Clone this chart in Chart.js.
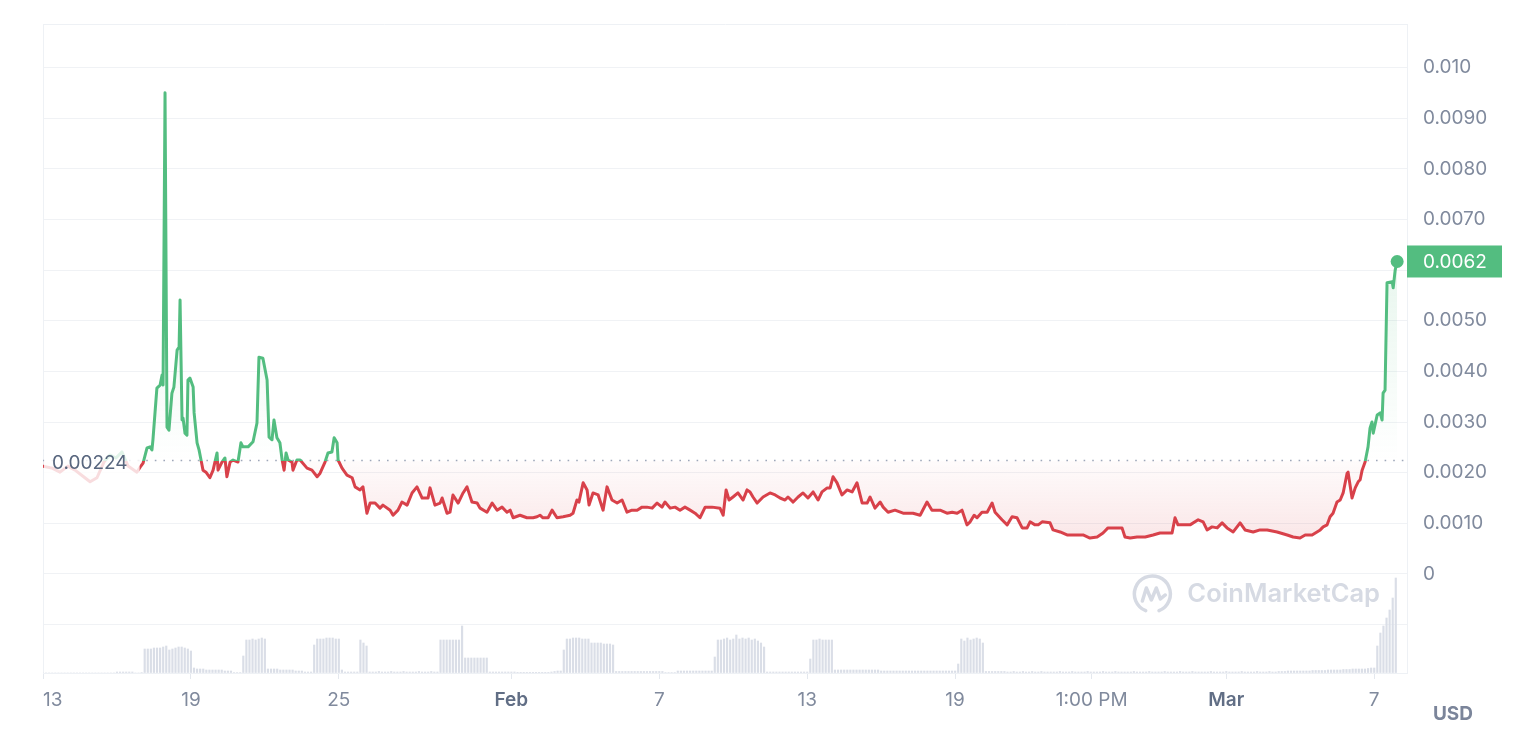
<!DOCTYPE html>
<html><head><meta charset="utf-8">
<script src="https://cdn.jsdelivr.net/npm/chart.js@4.4.1/dist/chart.umd.min.js"></script>
<style>html,body{margin:0;padding:0;background:#fff;}#wrap{width:1536px;height:744px;}</style>
</head><body><div id="wrap"><canvas id="c" width="1536" height="744"></canvas></div>
<script>
// ---- time axis: days since Jan 13 ----
const priceDays = [
0.00,0.37,0.69,1.01,1.30,1.62,1.91,2.19,2.47,2.72,
2.96,3.20,3.45,3.81,3.94,4.06,4.22,4.34,4.42,4.46,
4.62,4.75,4.83,4.87,4.95,5.03,5.11,5.23,5.31,5.44,
5.52,5.56,5.64,5.68,5.76,5.84,5.88,5.96,6.09,6.13,
6.25,6.33,6.41,6.49,6.61,6.77,6.90,7.06,7.10,7.26,
7.38,7.46,7.59,7.71,7.91,8.03,8.11,8.32,8.52,8.68,
8.76,8.92,9.09,9.17,9.29,9.37,9.49,9.61,9.70,9.78,
9.86,9.94,10.10,10.14,10.30,10.43,10.71,10.91,11.12,11.24,
11.44,11.56,11.72,11.81,11.93,11.97,12.13,12.33,12.54,12.66,
12.86,12.98,13.14,13.27,13.47,13.67,13.79,14.08,14.20,14.40,
14.56,14.77,14.97,15.17,15.38,15.62,15.70,15.90,16.11,16.19,
16.39,16.51,16.63,16.84,17.04,17.20,17.40,17.61,17.73,18.01,
18.22,18.42,18.62,18.82,18.95,19.07,19.35,19.63,19.88,20.04,
20.16,20.28,20.49,20.65,20.85,21.10,21.38,21.50,21.66,21.74,
21.91,22.07,22.15,22.31,22.52,22.72,22.88,23.08,23.29,23.49,
23.69,23.89,24.10,24.30,24.50,24.71,24.91,25.11,25.23,25.44,
25.64,25.84,26.04,26.25,26.45,26.65,26.86,27.14,27.46,27.59,
27.71,27.83,27.99,28.19,28.40,28.56,28.68,28.80,28.97,29.21,
29.49,29.70,29.90,30.10,30.22,30.43,30.63,30.83,31.03,31.24,
31.44,31.60,31.81,31.93,32.05,32.21,32.41,32.62,32.82,33.02,
33.23,33.43,33.55,33.75,33.96,34.08,34.28,34.56,34.89,35.29,
35.58,35.86,36.06,36.39,36.67,36.88,37.08,37.28,37.48,37.61,
37.77,37.89,38.09,38.30,38.50,38.62,38.90,39.11,39.31,39.51,
39.72,39.92,40.04,40.24,40.37,40.53,40.85,40.97,41.26,41.54,
41.78,42.19,42.47,42.76,43.00,43.20,43.41,43.77,43.89,44.10,
44.38,44.71,45.03,45.31,45.60,45.80,45.92,46.04,46.25,46.53,
46.86,47.06,47.22,47.42,47.63,47.83,48.03,48.28,48.56,48.76,
49.09,49.37,49.66,50.06,50.47,50.71,50.99,51.20,51.48,51.81,
51.93,52.09,52.21,52.33,52.49,52.62,52.74,52.90,52.94,53.10,
53.23,53.35,53.43,53.51,53.63,53.75,53.83,53.91,53.96,54.12,
54.24,54.32,54.36,54.44,54.52,54.73,54.77,54.85,54.93
];
const priceUsd = [
0.00213,0.00209,0.00201,0.00213,0.00205,0.00193,0.00182,0.00190,0.00221,0.00235,
0.00229,0.00241,0.00213,0.00201,0.00211,0.00219,0.00249,0.00251,0.00245,0.00265,
0.00367,0.00373,0.00393,0.00373,0.00950,0.00290,0.00284,0.00357,0.00369,0.00442,
0.00448,0.00541,0.00304,0.00308,0.00278,0.00274,0.00383,0.00387,0.00369,0.00318,
0.00259,0.00245,0.00225,0.00205,0.00201,0.00190,0.00205,0.00239,0.00205,0.00221,
0.00229,0.00192,0.00221,0.00225,0.00221,0.00259,0.00251,0.00251,0.00261,0.00298,
0.00428,0.00426,0.00383,0.00270,0.00265,0.00304,0.00269,0.00259,0.00225,0.00205,
0.00239,0.00225,0.00221,0.00205,0.00225,0.00225,0.00209,0.00205,0.00192,0.00199,
0.00221,0.00239,0.00241,0.00269,0.00259,0.00225,0.00209,0.00195,0.00190,0.00172,
0.00166,0.00172,0.00120,0.00140,0.00140,0.00130,0.00136,0.00126,0.00116,0.00126,
0.00142,0.00136,0.00160,0.00172,0.00150,0.00150,0.00170,0.00136,0.00140,0.00150,
0.00120,0.00122,0.00156,0.00140,0.00160,0.00172,0.00142,0.00140,0.00130,0.00122,
0.00140,0.00126,0.00132,0.00122,0.00126,0.00111,0.00116,0.00111,0.00111,0.00113,
0.00116,0.00111,0.00111,0.00126,0.00111,0.00113,0.00116,0.00120,0.00146,0.00142,
0.00180,0.00166,0.00136,0.00160,0.00156,0.00126,0.00172,0.00146,0.00140,0.00146,
0.00122,0.00126,0.00126,0.00132,0.00132,0.00130,0.00140,0.00132,0.00142,0.00130,
0.00132,0.00126,0.00132,0.00126,0.00120,0.00111,0.00132,0.00132,0.00130,0.00116,
0.00166,0.00146,0.00152,0.00160,0.00146,0.00166,0.00162,0.00152,0.00140,0.00152,
0.00160,0.00156,0.00150,0.00146,0.00152,0.00142,0.00152,0.00160,0.00150,0.00162,
0.00146,0.00162,0.00170,0.00170,0.00192,0.00180,0.00156,0.00166,0.00162,0.00180,
0.00140,0.00140,0.00152,0.00130,0.00142,0.00132,0.00122,0.00126,0.00120,0.00120,
0.00116,0.00142,0.00126,0.00126,0.00120,0.00122,0.00120,0.00126,0.00097,0.00103,
0.00116,0.00111,0.00122,0.00122,0.00140,0.00122,0.00107,0.00097,0.00113,0.00111,
0.00091,0.00091,0.00103,0.00097,0.00097,0.00103,0.00101,0.00087,0.00083,0.00077,
0.00077,0.00077,0.00071,0.00073,0.00081,0.00091,0.00091,0.00091,0.00073,0.00071,
0.00073,0.00073,0.00077,0.00081,0.00081,0.00081,0.00111,0.00097,0.00097,0.00097,
0.00107,0.00103,0.00087,0.00093,0.00091,0.00101,0.00091,0.00083,0.00101,0.00087,
0.00083,0.00087,0.00087,0.00083,0.00077,0.00073,0.00071,0.00077,0.00077,0.00087,
0.00093,0.00097,0.00113,0.00120,0.00142,0.00146,0.00160,0.00199,0.00201,0.00150,
0.00170,0.00182,0.00186,0.00205,0.00221,0.00251,0.00288,0.00300,0.00278,0.00314,
0.00318,0.00304,0.00357,0.00363,0.00575,0.00577,0.00565,0.00600,0.00617
];
// volume, one value per 3-hour slot starting Jan 13 00:00 (relative units)
const volStartDay = 0;
const volStepDays = 0.125;
const volume = [
0,0,0,0,0,0,0,0,
0,0,0,0,0,0,0,0,
0,0,0,0,0,0,0,0,
1,1,1,1,1,1,0,0,
0.5,24,24,24,25,25,25,26,
27,23,24,25,26,26,25,24,
22,5,4,4,4,3,3,3,
3,3,3,2,2,2,0.5,0.5,
0.5,17,33,33,34,33,34,35,
34,4,4,4,4,3,3,3,
3,3,2,2,2,1,1,1,
28,34,34,34,35,35,35,34,
34,3,1,1,1,1,1,33,
30,27,1,1,1,1.5,1,1,
1,1.5,1,1,1,1.5,1,1,
1,1,1.5,1,1,1,1.5,1,
1,33,33,33,33,33,33,33,
47,15,15,15,15,15,15,15,
15,1,1,1,1,1,1,1,
1,1,0.3,0.3,0.3,0.3,0.3,0.3,
0.3,0.3,0.3,0.3,0.3,1,1.5,2,
2,23,34,34,35,35,35,34,
34,34,30,30,30,30,29,29,
29,28,1.5,1.5,1.5,1.5,1.5,1.5,
1.5,1.5,1.5,1.5,1.5,1.5,1.5,1.5,
1.5,1.5,0.5,0.5,0.5,0.5,2,2,
2,2,2,2,2,2,2,2,
2,2,16,33,33,34,35,33,
34,38,34,35,34,35,33,34,
32,30,26,1,1,1,1,1,
1,1,1,1,1,1,1,1,
1,14,33,33,34,33,33,33,
33,3,3,3,3,3,3,3,
3,3,3,3,3,3,3,3,
2,2,2,2,2,2,2,2,
2,2,2,2,2,2,2,2,
2,2,2,2,2,2,2,2,
2,9,34,32,35,33,34,35,
34,30,1.5,1.5,1.5,1.5,1.5,1.5,
1.5,1,1,1.5,1,1,1.5,1,
1,1.5,1,1,1.5,1,1,1,
1,1,1.5,1,1,1,1.5,1,
1,1,1,1.5,1,1,1,1,
1.5,1,1,1,1.5,1,1,1,
1,1,1.5,1,1,1,1,1.5,
1,1,1,1,1.5,1,1,1,
1,1.5,1,1,1,1.5,1,1,
1,1,1,1.5,1,1,1,1,
1.5,1,1,1,1,1.5,1,1,
1,1,1.5,1,1,1,1.5,1,
1,1.5,1.5,1.5,2,2,2,2,
2,2,2,2,2.5,2.5,2.5,2.5,
2.5,3,3,3,3,3,3.5,3.5,
3.5,4,4,4,4,4,4.5,5,
5,27,40,47,55,63,75,95
];
const baselineUsd = 0.00224;
const xTickDays = [0, 6, 12, 19, 25, 31, 37, 42.54, 48, 54];
const xTickLabels = ['13', '19', '25', 'Feb', '7', '13', '19', '1:00 PM', 'Mar', '7'];
const boldXLabels = ['Feb', 'Mar'];
const yTickValues = [-0.001, 0, 0.001, 0.002, 0.003, 0.004, 0.005, 0.006, 0.007, 0.008, 0.009, 0.010];
const yTickLabels = ['', '0', '0.0010', '0.0020', '0.0030', '0.0040', '0.0050', '0.0060', '0.0070', '0.0080', '0.0090', '0.010'];
const xRange = [0, 55.33];
const yRange = [-0.001955, 0.010859];
const volumeAxisMax = 649;
const currencyLabel = 'USD';
const watermarkText = 'CoinMarketCap';

const GREEN = '#53bd80';
const RED = '#d8414a';
const FONT = 'Inter, "Noto Sans", sans-serif';
const GRID = '#f0f2f5';
const AXIS_TEXT = '#808a9d';

function strokeGradient(chart) {
  const {ctx, chartArea, scales} = chart;
  if (!chartArea || !scales.y) return GREEN;
  const yb = scales.y.getPixelForValue(baselineUsd);
  const t = Math.min(1, Math.max(0, (yb - chartArea.top) / (chartArea.bottom - chartArea.top)));
  const g = ctx.createLinearGradient(0, chartArea.top, 0, chartArea.bottom);
  g.addColorStop(0, GREEN); g.addColorStop(t, GREEN);
  g.addColorStop(t, RED); g.addColorStop(1, RED);
  return g;
}
function fillSpec(chart) {
  const {ctx, scales} = chart;
  const yb = scales.y.getPixelForValue(baselineUsd);
  const yHi = scales.y.getPixelForValue(0.006);
  const yLo = scales.y.getPixelForValue(0);
  const up = ctx.createLinearGradient(0, yb, 0, yHi);
  up.addColorStop(0, 'rgba(83,189,128,0.0)');
  up.addColorStop(1, 'rgba(83,189,128,0.13)');
  const down = ctx.createLinearGradient(0, yb, 0, yLo);
  down.addColorStop(0, 'rgba(217,67,74,0.02)');
  down.addColorStop(1, 'rgba(217,67,74,0.18)');
  return {value: baselineUsd, above: up, below: down};
}

const overlay = {
  id: 'overlay',
  beforeDatasetsDraw(chart) {
    const {ctx, chartArea, scales} = chart;
    const cy = scales.y.getPixelForValue(0) + 20;
    ctx.save();
    ctx.font = '600 25.5px ' + FONT;
    ctx.fillStyle = '#d6dae3';
    ctx.textAlign = 'right';
    ctx.textBaseline = 'middle';
    const right = chartArea.right - 27;
    ctx.fillText(watermarkText, right, cy);
    const w = ctx.measureText(watermarkText).width;
    const cx = right - w - 35;
    ctx.strokeStyle = '#d6dae3';
    ctx.lineWidth = 3.5;
    ctx.lineCap = 'round';
    ctx.lineJoin = 'round';
    ctx.beginPath();
    ctx.arc(cx, cy, 18, Math.PI * 0.62, Math.PI * 2.38);
    ctx.stroke();
    ctx.beginPath();
    ctx.moveTo(cx - 10, cy + 7);
    ctx.lineTo(cx - 6, cy - 6);
    ctx.lineTo(cx - 1, cy + 6);
    ctx.lineTo(cx + 4, cy - 6);
    ctx.lineTo(cx + 8, cy + 5);
    ctx.lineTo(cx + 13, cy + 1);
    ctx.stroke();
    ctx.restore();
  },
  afterDatasetsDraw(chart) {
    const {ctx, chartArea, scales} = chart;
    const yb = scales.y.getPixelForValue(baselineUsd);
    ctx.save();
    ctx.font = '400 19px ' + FONT;
    const txt = String(baselineUsd);
    const w = ctx.measureText(txt).width;
    ctx.fillStyle = 'rgba(255,255,255,0.82)';
    ctx.fillRect(chartArea.left + 1, yb - 18, w + 20, 44);
    ctx.fillStyle = '#58667e';
    ctx.textAlign = 'left';
    ctx.textBaseline = 'middle';
    ctx.fillText(txt, chartArea.left + 9, yb + 3);
    ctx.restore();
  },
  afterDraw(chart) {
    const {ctx, chartArea, scales} = chart;
    const last = priceUsd[priceUsd.length - 1];
    const yl = scales.y.getPixelForValue(last);
    ctx.save();
    ctx.fillStyle = GREEN;
    ctx.fillRect(chartArea.right, yl - 16, 95, 32);
    ctx.fillStyle = '#ffffff';
    ctx.font = '400 19px ' + FONT;
    ctx.textAlign = 'left';
    ctx.textBaseline = 'middle';
    ctx.fillText(last.toPrecision(2), chartArea.right + 16, yl + 1);
    ctx.font = '700 19px ' + FONT;
    ctx.fillStyle = '#7b859a';
    ctx.textAlign = 'center';
    ctx.fillText(currencyLabel, scales.y.left + 46, chartArea.bottom + 41);
    ctx.restore();
  }
};

const chart = new Chart(document.getElementById('c'), {
  type: 'line',
  data: {
    datasets: [
      {
        type: 'line',
        label: 'Price',
        data: priceDays.map((d, i) => ({x: d, y: priceUsd[i]})),
        xAxisID: 'x', yAxisID: 'y',
        borderColor: (c) => strokeGradient(c.chart),
        borderWidth: 3,
        borderJoinStyle: 'round',
        borderCapStyle: 'round',
        tension: 0,
        fill: false,
        pointRadius: (c) => c.dataIndex === priceUsd.length - 1 ? 6.5 : 0,
        pointHoverRadius: 0,
        pointBorderWidth: 0,
        pointBackgroundColor: (c) => (c.raw && c.raw.y >= baselineUsd) ? GREEN : RED,
        order: 0
      },
      {
        type: 'line',
        label: 'Baseline',
        data: [{x: xRange[0], y: baselineUsd}, {x: xRange[1], y: baselineUsd}],
        xAxisID: 'x', yAxisID: 'y',
        borderColor: '#9ea8ba',
        borderWidth: 1.6,
        borderDash: [1.6, 7],
        pointRadius: 0,
        fill: false,
        order: 1
      },
      {
        type: 'bar',
        label: 'Volume',
        data: volume.map((v, i) => ({x: volStartDay + i * volStepDays, y: v})),
        xAxisID: 'x', yAxisID: 'yv',
        backgroundColor: '#dadee7',
        barThickness: 1.5,
        order: 2
      }
    ]
  },
  options: {
    responsive: false,
    animation: false,
    devicePixelRatio: 1,
    layout: {padding: {left: 43, top: 24, right: 0, bottom: 0}},
    plugins: {legend: {display: false}, tooltip: {enabled: false}},
    scales: {
      x: {
        type: 'linear', position: 'bottom', min: xRange[0], max: xRange[1], offset: false,
        afterBuildTicks: (s) => { s.ticks = xTickDays.concat([xRange[1]]).map(v => ({value: v})); },
        afterFit: (s) => { s.height = 71; s.paddingLeft = 0; s.paddingRight = 0; },
        ticks: {
          autoSkip: false, maxRotation: 0, minRotation: 0, align: 'inner', padding: 10,
          callback: (v, i) => xTickLabels[i] !== undefined ? xTickLabels[i] : '',
          font: (c) => ({family: FONT, size: 19, weight: boldXLabels.includes(xTickLabels[c.index]) ? '600' : '400'}),
          color: (c) => boldXLabels.includes(xTickLabels[c.index]) ? '#616e85' : AXIS_TEXT
        },
        grid: {
          offset: false, drawOnChartArea: false, drawTicks: true, tickLength: 6,
          tickColor: (c) => c.index >= xTickDays.length ? 'rgba(0,0,0,0)' : '#e4e8ee',
          color: 'rgba(0,0,0,0)'
        },
        border: {display: true, color: '#eef1f5', width: 1}
      },
      xTop: {
        type: 'linear', position: 'top', min: xRange[0], max: xRange[1],
        afterFit: (s) => { s.height = 0; s.paddingLeft = 0; s.paddingRight = 0; },
        ticks: {display: false},
        grid: {drawOnChartArea: false, drawTicks: false},
        border: {display: true, color: '#eef1f5', width: 1}
      },
      y: {
        type: 'linear', position: 'right', min: yRange[0], max: yRange[1],
        afterBuildTicks: (s) => { s.ticks = yTickValues.map(v => ({value: v})); },
        afterFit: (s) => { s.width = 129; s.paddingTop = 0; s.paddingBottom = 0; },
        ticks: {
          padding: 16, color: AXIS_TEXT,
          font: {family: FONT, size: 19, weight: '400'},
          callback: (v, i) => yTickLabels[i]
        },
        grid: {color: GRID, drawTicks: false, lineWidth: 1},
        border: {display: true, color: '#eef1f5', width: 1}
      },
      yv: {
        type: 'linear', position: 'left', min: 0, max: volumeAxisMax,
        afterFit: (s) => { s.width = 0; s.paddingTop = 0; s.paddingBottom = 0; },
        ticks: {display: false},
        grid: {drawOnChartArea: false, drawTicks: false},
        border: {display: true, color: '#eef1f5', width: 1}
      }
    }
  },
  plugins: [overlay]
});
chart.data.datasets[0].fill = fillSpec(chart);
chart.update('none');
</script>
</body></html>
